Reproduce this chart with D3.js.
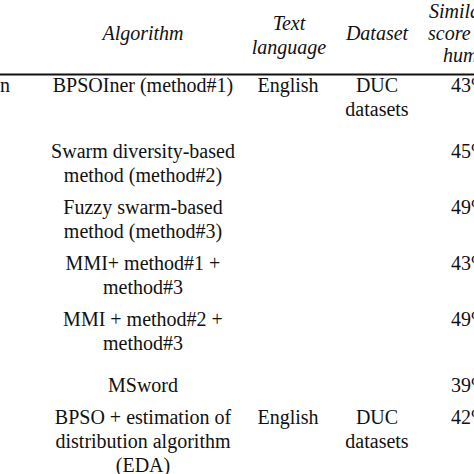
<!DOCTYPE html><html><head><meta charset="utf-8"><script src="https://cdn.jsdelivr.net/npm/d3@7"></script>
<style>body{margin:0;background:#fff} text{font-family:"Liberation Serif","Times New Roman",serif}</style></head><body><svg id="c" width="474" height="474"></svg><script>
const algorithms=[["BPSOIner (method#1)"],["Swarm diversity-based","method (method#2)"],["Fuzzy swarm-based","method (method#3)"],["MMI+ method#1 +","method#3"],["MMI + method#2 +","method#3"],["MSword"],["BPSO + estimation of","distribution algorithm","(EDA)"]];
const languages=["English","","","","","","English"];
const datasets=[["DUC","datasets"],[],[],[],[],[],["DUC","datasets"]];
const scores=[43,45,49,43,49,39,42];
const rowY=[92,158,214,270,326,392,424];
const svg=d3.select("#c");
const g=svg.append("g").attr("font-size",20).attr("fill","#111");
const lines=(x,y,arr,anchor,italic)=>arr.forEach((t,i)=>g.append("text").attr("x",x).attr("y",y+i*24).attr("text-anchor",anchor||"middle").attr("font-style",italic?"italic":null).text(t));
lines(143,40,["Algorithm"],"middle",true);
lines(289,30,["Text","language"],"middle",true);
lines(377,40,["Dataset"],"middle",true);
g.append("text").attr("x",429).attr("y",18).attr("font-style","italic").text("Similarity");
g.append("text").attr("x",428).attr("y",40).attr("font-style","italic").text("score with");
g.append("text").attr("x",443).attr("y",62).attr("font-style","italic").text("human");
svg.append("line").attr("x1",0).attr("x2",474).attr("y1",74.5).attr("y2",74.5).attr("stroke","#111").attr("stroke-width",2);
g.append("text").attr("x",10).attr("y",92).attr("text-anchor","end").text("Optimization");
algorithms.forEach((a,i)=>{
  lines(143,rowY[i],a);
  if(languages[i])lines(288,rowY[i],[languages[i]]);
  lines(377,rowY[i],datasets[i]);
  g.append("text").attr("x",451).attr("y",rowY[i]).text(scores[i]+"%");
});
</script></body></html>
